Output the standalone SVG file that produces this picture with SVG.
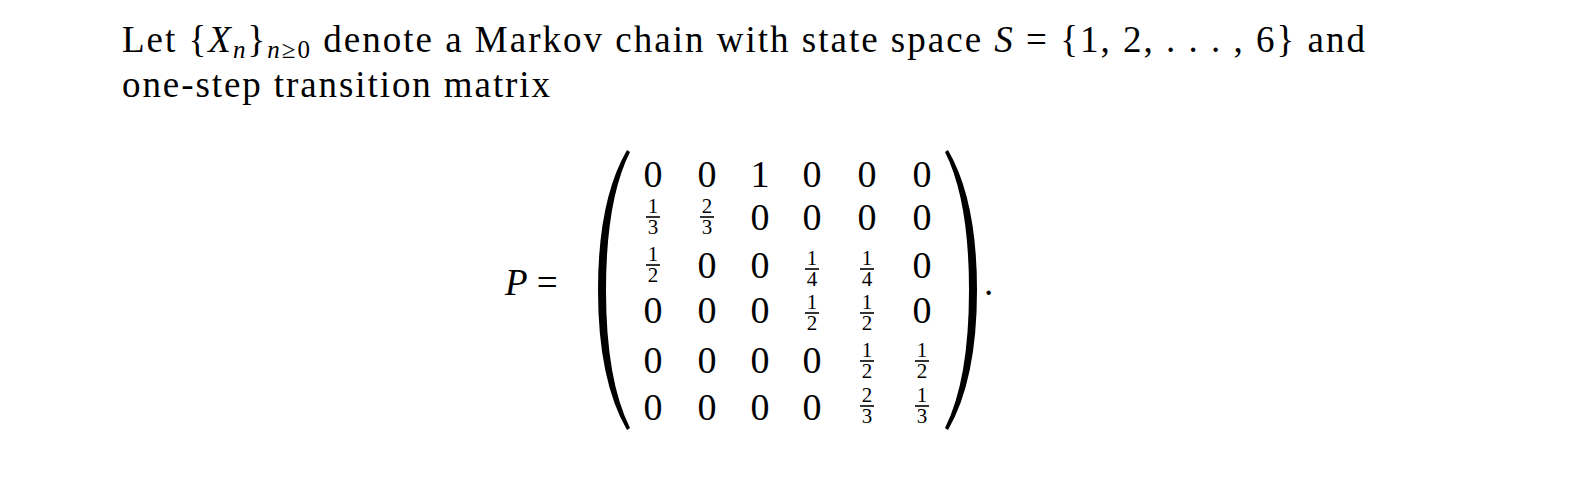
<svg xmlns="http://www.w3.org/2000/svg" width="1592" height="478" viewBox="0 0 1592 478">
<style>
text{font-family:"Liberation Serif",serif;fill:#000}
.t{font-size:37px}
.i{font-style:italic}
.m{font-size:38px;text-anchor:middle}
.f{font-size:21px;text-anchor:middle}
.b{stroke:#000;stroke-width:1.6}
</style>
<rect width="1592" height="478" fill="#fff"/>
<g id="text">
<text class="t" x="122" y="52" textLength="1243" lengthAdjust="spacing">Let {<tspan class="i">X</tspan><tspan class="i" font-size="25" dy="6">n</tspan><tspan dy="-6">}</tspan><tspan class="i" font-size="25" dy="6">n</tspan><tspan font-size="25">≥0</tspan><tspan dy="-6"> denote a Markov chain with state space </tspan><tspan class="i">S</tspan> = {1, 2, . . . , 6} and</text>
<text class="t" x="122" y="97" textLength="428" lengthAdjust="spacing">one-step transition matrix</text>
<text class="t" x="505" y="295"><tspan class="i">P</tspan> =</text>
<text class="t" x="984" y="295">.</text>
</g>
<g id="matrix">
<path d="M627,150 Q598,200 598,290 Q598,380 627,430 L630,428 Q606,380 606,290 Q606,200 630,152 Z"/>
<path d="M948,150 Q977,200 977,290 Q977,380 948,430 L945,428 Q969,380 969,290 Q969,200 945,152 Z"/>
<g class="m">
<text x="653" y="187">0</text><text x="707" y="187">0</text><text x="760" y="187">1</text><text x="812" y="187">0</text><text x="867" y="187">0</text><text x="922" y="187">0</text>
<text x="760" y="230">0</text><text x="812" y="230">0</text><text x="867" y="230">0</text><text x="922" y="230">0</text>
<text x="707" y="278">0</text><text x="760" y="278">0</text><text x="922" y="278">0</text>
<text x="653" y="323">0</text><text x="707" y="323">0</text><text x="760" y="323">0</text><text x="922" y="323">0</text>
<text x="653" y="373">0</text><text x="707" y="373">0</text><text x="760" y="373">0</text><text x="812" y="373">0</text>
<text x="653" y="420">0</text><text x="707" y="420">0</text><text x="760" y="420">0</text><text x="812" y="420">0</text>
</g>
<g class="f">
<text x="653" y="213">1</text><text x="653" y="234">3</text>
<text x="707" y="213">2</text><text x="707" y="234">3</text>
<text x="653" y="261">1</text><text x="653" y="282">2</text>
<text x="812" y="265">1</text><text x="812" y="286">4</text>
<text x="867" y="265">1</text><text x="867" y="286">4</text>
<text x="812" y="309">1</text><text x="812" y="330">2</text>
<text x="867" y="309">1</text><text x="867" y="330">2</text>
<text x="867" y="357">1</text><text x="867" y="378">2</text>
<text x="922" y="357">1</text><text x="922" y="378">2</text>
<text x="867" y="402">2</text><text x="867" y="423">3</text>
<text x="922" y="402">1</text><text x="922" y="423">3</text>
</g>
<g class="b">
<line x1="646" y1="217" x2="660" y2="217"/><line x1="700" y1="217" x2="714" y2="217"/>
<line x1="646" y1="265" x2="660" y2="265"/>
<line x1="805" y1="269" x2="819" y2="269"/><line x1="860" y1="269" x2="874" y2="269"/>
<line x1="805" y1="313" x2="819" y2="313"/><line x1="860" y1="313" x2="874" y2="313"/>
<line x1="860" y1="361" x2="874" y2="361"/><line x1="915" y1="361" x2="929" y2="361"/>
<line x1="860" y1="406" x2="874" y2="406"/><line x1="915" y1="406" x2="929" y2="406"/>
</g>
</g>
</svg>
